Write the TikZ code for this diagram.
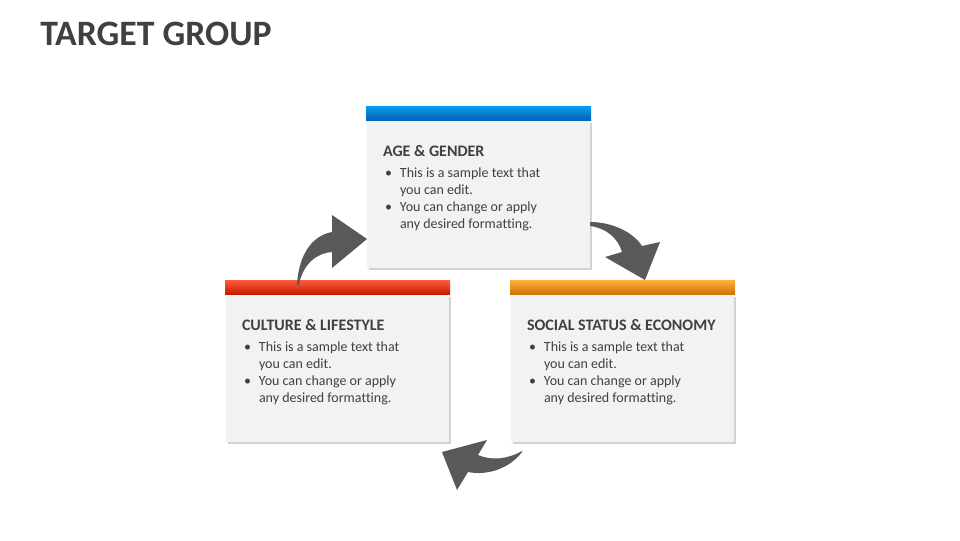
\documentclass[tikz,border=0pt]{standalone}
\usepackage{fontspec}
\setmainfont{Carlito}[Ligatures = NoCommon]
\usetikzlibrary{calc, positioning, shadows}

\definecolor{textgray}{HTML}{404040}
\definecolor{arrowgray}{HTML}{595959}
\definecolor{cardfill}{HTML}{F2F2F2}
\definecolor{bluetop}{HTML}{0A9AEC}
\definecolor{bluebot}{HTML}{0062B2}
\definecolor{redtop}{HTML}{FF5A3C}
\definecolor{redbot}{HTML}{C41A00}
\definecolor{orangetop}{HTML}{FFAE3A}
\definecolor{orangebot}{HTML}{CC7200}

\begin{document}
\begin{tikzpicture}[x = 0.75pt, y = -0.75pt,
        card/.style = {rectangle, fill = cardfill, minimum width = 167.25pt, minimum height = 110.25pt, inner sep = 0,
            drop shadow = {shadow xshift = 1.5pt, shadow yshift = -1.5pt, opacity = 0.35}},
        cardbar/.style = {rectangle, minimum width = 168.75pt, minimum height = 10.5pt, inner sep = 0},
        cardtext/.style = {anchor = north west, inner sep = 0, align = left, text = textgray, font = \fontsize{10.5}{12.75}\selectfont},
        blockarrow/.style = {fill = arrowgray}]
            \useasboundingbox (0, 0) rectangle (960, 540);
            \fill[white](0, 0) rectangle (960, 540);
            
            \node[anchor = base west, inner sep = 0, text = textgray, font = \fontsize{26.8}{30}\selectfont\bfseries] (title) at (40, 45) {TARGET GROUP};
            
            % cards
            \foreach \nm/\cx/\cy/\ctop/\cbot/\head in {age/478.5/194.5/bluetop/bluebot/{AGE \& GENDER}, culture/337.5/368.5/redtop/redbot/{CULTURE \& LIFESTYLE}, social/622.5/368.5/orangetop/orangebot/{SOCIAL STATUS \& ECONOMY}} {
                \node[card] (\nm) at (\cx, \cy) {};
                \node[cardbar, top color = \ctop, bottom color = \cbot, above = 0pt of \nm] (\nm bar) {};
                \node[cardtext] (\nm text) at ($(\nm.north west) + (16, 24)$) {{\fontsize{12}{12.75}\selectfont\bfseries \head}\\[3pt]
                    \hspace*{1.5pt}\makebox[11.25pt][l]{\textbullet}This is a sample text that\\
                    \hspace*{12.75pt}you can edit.\\
                    \hspace*{1.5pt}\makebox[11.25pt][l]{\textbullet}You can change or apply\\
                    \hspace*{12.75pt}any desired formatting.};
            }
            
            % curved arrows
            \fill[blockarrow](297, 286) .. controls (298, 258) and (310, 236) .. (332, 232) -- (332, 215) -- (367, 239) -- (332, 268) -- (332, 252) .. controls (318, 253) and (304, 262) .. (299, 284) -- cycle;
            \fill[blockarrow](590, 222) .. controls (612, 222) and (633, 232) .. (642, 246) -- (660, 242) -- (645, 280) -- (605, 257) -- (622, 252) .. controls (618, 238) and (606, 228) .. (590, 226) -- cycle;
            \fill[blockarrow](522, 451) .. controls (508, 459) and (492, 461) .. (478, 455) -- (487, 440) -- (442, 452) -- (457, 490) -- (468, 472) .. controls (488, 476) and (510, 468) .. (522, 452) -- cycle;
        \end{tikzpicture}
\end{document}
